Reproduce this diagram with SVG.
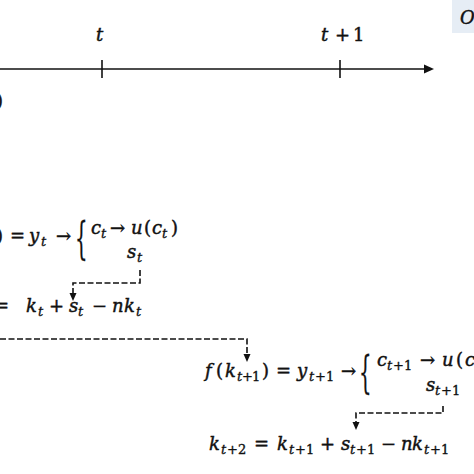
<svg xmlns="http://www.w3.org/2000/svg" width="474" height="474" viewBox="0 0 474 474">
<style>
text{font-family:"DejaVu Serif","Liberation Serif",serif;fill:#111;font-size:18px;stroke:#111;stroke-width:0.45}
.i{font-style:italic}
.s{font-size:13px;stroke-width:0.35}
.br{font-size:44px;stroke-width:0.3}
.ax{stroke:#111;stroke-width:1.6;fill:none}
.dash{stroke:#111;stroke-width:1.6;fill:none;stroke-dasharray:6 2.5}
.head{fill:#111}
</style>
<rect width="474" height="474" fill="#fff"/>
<g id="label-box">
<rect x="452" y="0" width="22" height="33" fill="#e6edf5"/>
<text class="i" x="460" y="24">O</text>
</g>
<g id="timeline">
<line class="ax" x1="0" y1="69" x2="427" y2="69"/>
<polygon class="head" points="434,69 424,64.5 424,73.5"/>
<line class="ax" x1="102" y1="60" x2="102" y2="78"/>
<line class="ax" x1="340" y1="60" x2="340" y2="78"/>
<text class="i" x="96" y="41">t</text>
<text class="i" x="321" y="41">t</text>
<text x="335" y="41">+</text>
<text x="353" y="41">1</text>
<text x="-4" y="107">)</text>
</g>
<g id="eq-period-t">
<text x="-4" y="242">)</text>
<text x="10" y="242">=</text>
<text class="i" x="29" y="242">y</text><text class="i s" x="41" y="246">t</text>
<text x="56" y="242">→</text>
<text class="br" transform="translate(75,254) scale(0.45,1)">{</text>
<text class="i" x="91" y="234">c</text><text class="i s" x="101" y="238">t</text>
<text x="110" y="234">→</text>
<text class="i" x="131" y="234">u</text><text x="144" y="234">(</text><text class="i" x="152" y="234">c</text><text class="i s" x="162" y="238">t</text><text x="171" y="234">)</text>
<text class="i" x="127" y="258">s</text><text class="i s" x="137" y="262">t</text>
</g>
<g id="eq-capital-t">
<text x="-6" y="312">=</text>
<text class="i" x="26" y="312">k</text><text class="i s" x="38" y="316">t</text>
<text x="49" y="312">+</text>
<text class="i" x="69" y="312">s</text><text class="i s" x="78" y="316">t</text>
<text x="92" y="312">−</text>
<text class="i" x="112" y="312">n</text><text class="i" x="124" y="312">k</text><text class="i s" x="136" y="316">t</text>
</g>
<g id="eq-period-t1">
<text class="i" x="205" y="377">f</text><text x="216" y="377">(</text><text class="i" x="225" y="377">k</text>
<text class="i s" x="237" y="381">t</text><text class="s" x="242" y="381">+</text><text class="s" x="252" y="381">1</text>
<text x="262" y="377">)</text>
<text x="276" y="377">=</text>
<text class="i" x="297" y="377">y</text>
<text class="i s" x="309" y="381">t</text><text class="s" x="315" y="381">+</text><text class="s" x="326" y="381">1</text>
<text x="341" y="377">→</text>
<text class="br" transform="translate(359,388) scale(0.45,1)">{</text>
<text class="i" x="377" y="366">c</text>
<text class="i s" x="387" y="370">t</text><text class="s" x="393" y="370">+</text><text class="s" x="404" y="370">1</text>
<text x="420" y="366">→</text>
<text class="i" x="442" y="366">u</text><text x="456" y="366">(</text><text class="i" x="465" y="366">c</text>
<text class="i" x="426" y="391">s</text>
<text class="i s" x="435" y="395">t</text><text class="s" x="441" y="395">+</text><text class="s" x="452" y="395">1</text>
</g>
<g id="eq-capital-t1">
<text class="i" x="209" y="450">k</text>
<text class="i s" x="221" y="454">t</text><text class="s" x="227" y="454">+</text><text class="s" x="238" y="454">2</text>
<text x="254" y="450">=</text>
<text class="i" x="277" y="450">k</text>
<text class="i s" x="289" y="454">t</text><text class="s" x="295" y="454">+</text><text class="s" x="306" y="454">1</text>
<text x="320" y="450">+</text>
<text class="i" x="341" y="450">s</text>
<text class="i s" x="350" y="454">t</text><text class="s" x="356" y="454">+</text><text class="s" x="367" y="454">1</text>
<text x="381" y="450">−</text>
<text class="i" x="401" y="450">n</text><text class="i" x="412" y="450">k</text>
<text class="i s" x="424" y="454">t</text><text class="s" x="430" y="454">+</text><text class="s" x="441" y="454">1</text>
</g>
<g id="connectors">
<path class="dash" d="M140,270 V283 H73 V294"/>
<polygon class="head" points="73,301 69.5,293 76.5,293"/>
<path class="dash" d="M0,339 H247 V355"/>
<polygon class="head" points="247,362 243.5,354 250.5,354"/>
<path class="dash" d="M443,406 V413 H356 V423"/>
<polygon class="head" points="356,430 352.5,422 359.5,422"/>
</g>
</svg>
